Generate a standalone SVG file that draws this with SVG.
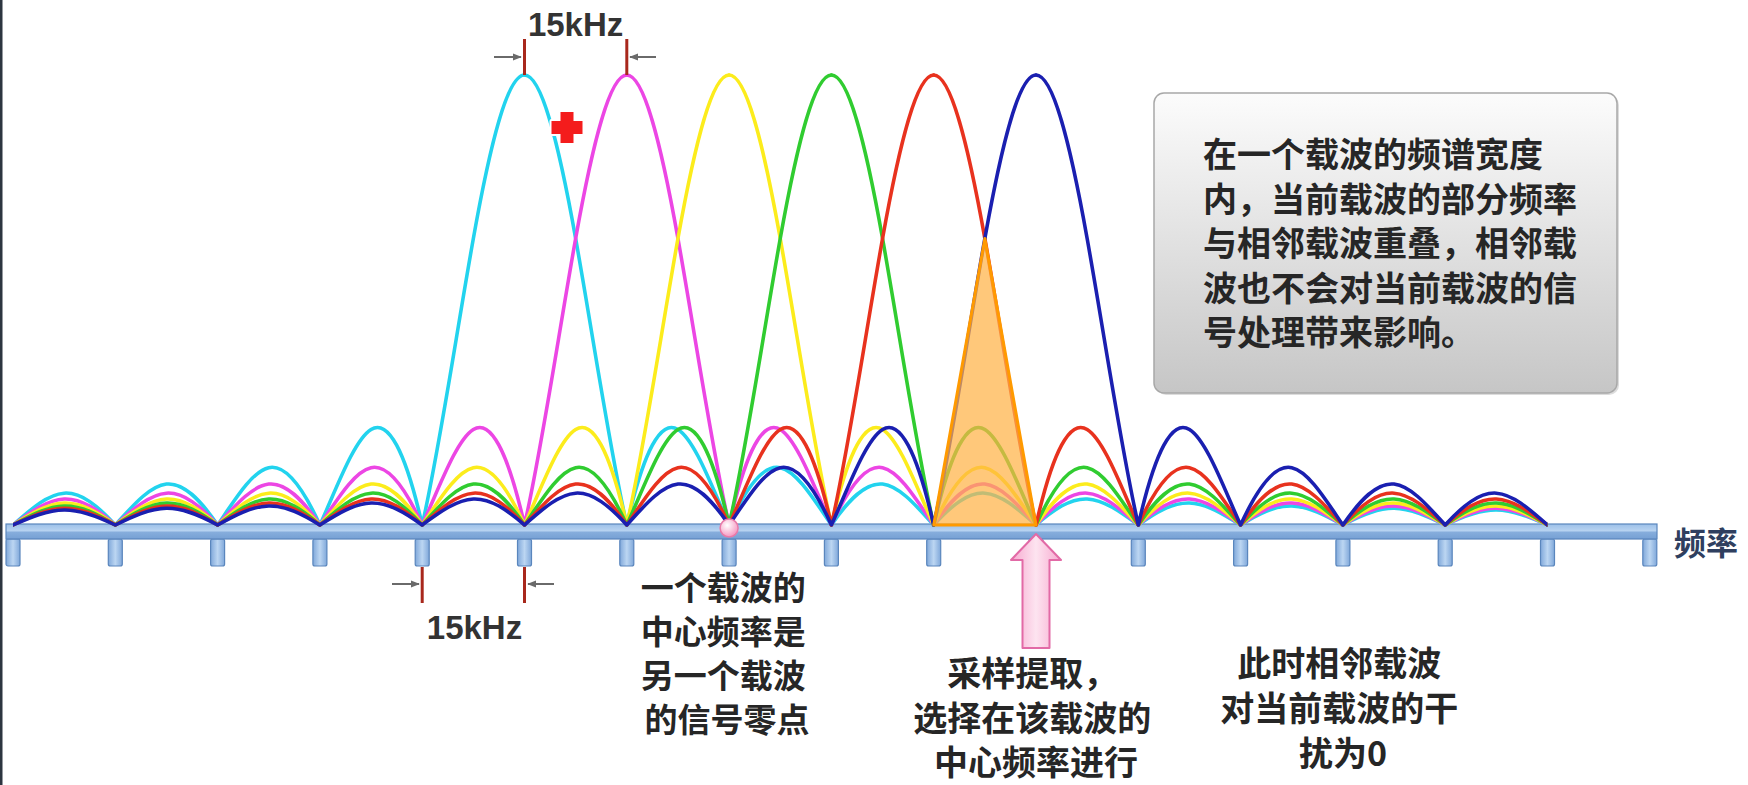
<svg xmlns="http://www.w3.org/2000/svg" width="1748" height="785" viewBox="0 0 1748 785">
<style>
.cv{fill:none;stroke-width:3.5;stroke-linecap:round;stroke-linejoin:round}
.cn{font-family:"Noto Sans CJK SC","Noto Sans",sans-serif;font-weight:700;fill:#262626}
.lat{font-family:"Liberation Sans",Arial,sans-serif;font-weight:700;fill:#333333;font-size:33px}
.tick{stroke:#a8281c;stroke-width:3}
.dim{stroke:#6a6a6a;stroke-width:2;marker-end:url(#ah)}
.leg{fill:url(#legG);stroke:#5a86bd;stroke-width:1.2}
</style>
<defs>
<linearGradient id="boxG" x1="0" y1="0" x2="0" y2="1"><stop offset="0" stop-color="#fcfcfc"/><stop offset="1" stop-color="#c6c6c6"/></linearGradient>
<linearGradient id="barG" x1="0" y1="0" x2="0" y2="1"><stop offset="0" stop-color="#9cc0e8"/><stop offset="0.45" stop-color="#b8d3f1"/><stop offset="0.55" stop-color="#86addc"/><stop offset="1" stop-color="#76a0d4"/></linearGradient>
<linearGradient id="legG" x1="0" y1="0" x2="1" y2="0"><stop offset="0" stop-color="#80a8da"/><stop offset="0.5" stop-color="#bcd6f2"/><stop offset="1" stop-color="#80a8da"/></linearGradient>
<linearGradient id="arrG" x1="0" y1="0" x2="1" y2="0"><stop offset="0" stop-color="#f7a8cf"/><stop offset="0.5" stop-color="#fde4f0"/><stop offset="1" stop-color="#f7a8cf"/></linearGradient>
<radialGradient id="dotG" cx="0.4" cy="0.35" r="0.7"><stop offset="0" stop-color="#ffffff"/><stop offset="1" stop-color="#f590bd"/></radialGradient>
<marker id="ah" viewBox="0 0 10 10" refX="9" refY="5" markerWidth="9" markerHeight="9" markerUnits="userSpaceOnUse" orient="auto"><path d="M0,1 L10,5 L0,9 z" fill="#6a6a6a"/></marker>
<clipPath id="clip"><rect x="13" y="0" width="1534.5" height="545"/></clipPath>
<path id="half" d="M0,-450 C16.67,-450 33.33,-381.96 50,-286.47 C66.67,-190.99 83.33,-75 100,0 C116.67,-75 133.33,-106.1 150,-95.49 C166.67,-84.88 183.33,-37.5 200,0 C216.67,-37.5 233.33,-61.12 250,-57.3 C266.67,-53.48 283.33,-25 300,0 C316.67,-25 333.33,-42.88 350,-40.93 C366.67,-38.98 383.33,-18.75 400,0 C416.67,-18.75 433.33,-33.01 450,-31.83 C466.67,-30.65 483.33,-15 500,0 C516.67,-15 533.33,-26.83 550,-26.04 C566.67,-25.25 583.33,-12.5 600,0 C616.67,-12.5 633.33,-22.61 650,-22.04 C666.67,-21.47 683.33,-10.71 700,0 C716.67,-10.71 733.33,-19.52 750,-19.1 C766.67,-18.68 783.33,-9.38 800,0 C816.67,-9.38 833.33,-17.18 850,-16.85 C866.67,-16.52 883.33,-8.33 900,0 C916.67,-8.33 933.33,-15.34 950,-15.08 C966.67,-14.82 983.33,-7.5 1000,0"/>
</defs>
<rect x="0" y="0" width="1748" height="785" fill="#ffffff"/>
<rect x="0" y="0" width="2.5" height="785" fill="#2d3540"/>

<g id="axis">
<g id="legs">
<rect class="leg" x="6" y="539" width="14" height="27" rx="2"/>
<rect class="leg" x="108.3" y="539" width="14" height="27" rx="2"/>
<rect class="leg" x="210.6" y="539" width="14" height="27" rx="2"/>
<rect class="leg" x="312.9" y="539" width="14" height="27" rx="2"/>
<rect class="leg" x="415.2" y="539" width="14" height="27" rx="2"/>
<rect class="leg" x="517.5" y="539" width="14" height="27" rx="2"/>
<rect class="leg" x="619.8" y="539" width="14" height="27" rx="2"/>
<rect class="leg" x="722.1" y="539" width="14" height="27" rx="2"/>
<rect class="leg" x="824.4" y="539" width="14" height="27" rx="2"/>
<rect class="leg" x="926.7" y="539" width="14" height="27" rx="2"/>
<rect class="leg" x="1029" y="539" width="14" height="27" rx="2"/>
<rect class="leg" x="1131.3" y="539" width="14" height="27" rx="2"/>
<rect class="leg" x="1233.6" y="539" width="14" height="27" rx="2"/>
<rect class="leg" x="1335.9" y="539" width="14" height="27" rx="2"/>
<rect class="leg" x="1438.2" y="539" width="14" height="27" rx="2"/>
<rect class="leg" x="1540.5" y="539" width="14" height="27" rx="2"/>
<rect class="leg" x="1642.8" y="539" width="14" height="27" rx="2"/>
</g>
<rect x="6" y="524" width="1651" height="15" fill="url(#barG)" stroke="#5a86bd" stroke-width="1.2"/>
<text class="cn" x="1674" y="555" font-size="32" style="fill:#2f3f5f">频率</text>
</g>

<g id="carriers" class="cv" clip-path="url(#clip)">
<g id="c-cyan" stroke="#22d3ee"><use href="#half" transform="translate(524.5,525) scale(1.023,1)"/><use href="#half" transform="translate(524.5,525) scale(-1.023,1)"/></g>
<g id="c-magenta" stroke="#ec46e4"><use href="#half" transform="translate(626.8,525) scale(1.023,1)"/><use href="#half" transform="translate(626.8,525) scale(-1.023,1)"/></g>
<g id="c-yellow" stroke="#fcec1c"><use href="#half" transform="translate(729.1,525) scale(1.023,1)"/><use href="#half" transform="translate(729.1,525) scale(-1.023,1)"/></g>
<g id="c-green" stroke="#30cc30"><use href="#half" transform="translate(831.4,525) scale(1.023,1)"/><use href="#half" transform="translate(831.4,525) scale(-1.023,1)"/></g>
<g id="c-red" stroke="#e8321e"><use href="#half" transform="translate(933.7,525) scale(1.023,1)"/><use href="#half" transform="translate(933.7,525) scale(-1.023,1)"/></g>
<g id="c-blue" stroke="#1a1fb0"><use href="#half" transform="translate(1036,525) scale(1.023,1)"/><use href="#half" transform="translate(1036,525) scale(-1.023,1)"/></g>
</g>

<g id="overlap-area">
<path d="M933.7,525 L984.85,238.5 L1036,525 Z" fill="#ffb347" fill-opacity="0.72" stroke="#ff9a00" stroke-width="3" stroke-linejoin="round"/>
</g>

<g id="zero-point">
<circle cx="729.1" cy="528" r="9" fill="url(#dotG)" stroke="#e87aa8" stroke-width="1.5"/>
</g>

<g id="sample-arrow">
<path d="M1036,534 L1061,560 L1049.5,560 L1049.5,648 L1022.5,648 L1022.5,560 L1011,560 Z" fill="url(#arrG)" stroke="#e26aa6" stroke-width="2" stroke-linejoin="round"/>
</g>

<g id="connectors">
<line class="tick" x1="524.5" y1="39" x2="524.5" y2="75"/>
<line class="tick" x1="626.8" y1="39" x2="626.8" y2="75"/>
<line class="dim" x1="494" y1="57" x2="521" y2="57"/>
<line class="dim" x1="656" y1="57" x2="630" y2="57"/>
<line class="tick" x1="422.2" y1="567" x2="422.2" y2="603"/>
<line class="tick" x1="524.5" y1="567" x2="524.5" y2="603"/>
<line class="dim" x1="392" y1="584" x2="419" y2="584"/>
<line class="dim" x1="554" y1="584" x2="528" y2="584"/>
</g>

<g id="label-top"><text class="lat" x="575.6" y="36" text-anchor="middle">15kHz</text></g>
<g id="label-bottom"><text class="lat" x="474.5" y="639" text-anchor="middle">15kHz</text></g>

<g id="cursor">
<path d="M560.5,112 L573.5,112 L573.5,121 L582.5,121 L582.5,134 L573.5,134 L573.5,143 L560.5,143 L560.5,134 L551.5,134 L551.5,121 L560.5,121 Z" fill="#f41c1c" stroke="#ffffff" stroke-width="4" paint-order="stroke" stroke-linejoin="round"/>
</g>

<g id="note-box">
<rect x="1156" y="95" width="463" height="300" rx="10" fill="#9a9a9a" opacity="0.35"/>
<rect x="1154" y="93" width="463" height="300" rx="10" fill="url(#boxG)" stroke="#a8a8a8" stroke-width="1.5"/>
<text class="cn" font-size="34">
<tspan x="1203" y="167">在一个载波的频谱宽度</tspan>
<tspan x="1203" y="211.5">内，当前载波的部分频率</tspan>
<tspan x="1203" y="256">与相邻载波重叠，相邻载</tspan>
<tspan x="1203" y="300.5">波也不会对当前载波的信</tspan>
<tspan x="1203" y="345">号处理带来影响。</tspan>
</text>
</g>

<g id="note-zero">
<text class="cn" font-size="33" text-anchor="middle">
<tspan x="727" y="600">一个载波的</tspan>
<tspan x="727" y="644">中心频率是</tspan>
<tspan x="727" y="688">另一个载波</tspan>
<tspan x="727" y="732">的信号零点</tspan>
</text>
</g>

<g id="note-sample">
<text class="cn" font-size="34" text-anchor="middle">
<tspan x="1036" y="686">采样提取，</tspan>
<tspan x="1036" y="731">选择在该载波的</tspan>
<tspan x="1036" y="775">中心频率进行</tspan>
</text>
</g>

<g id="note-interference">
<text class="cn" font-size="34" text-anchor="middle">
<tspan x="1343" y="676">此时相邻载波</tspan>
<tspan x="1343" y="721">对当前载波的干</tspan>
<tspan x="1343" y="766">扰为0</tspan>
</text>
</g>
</svg>
